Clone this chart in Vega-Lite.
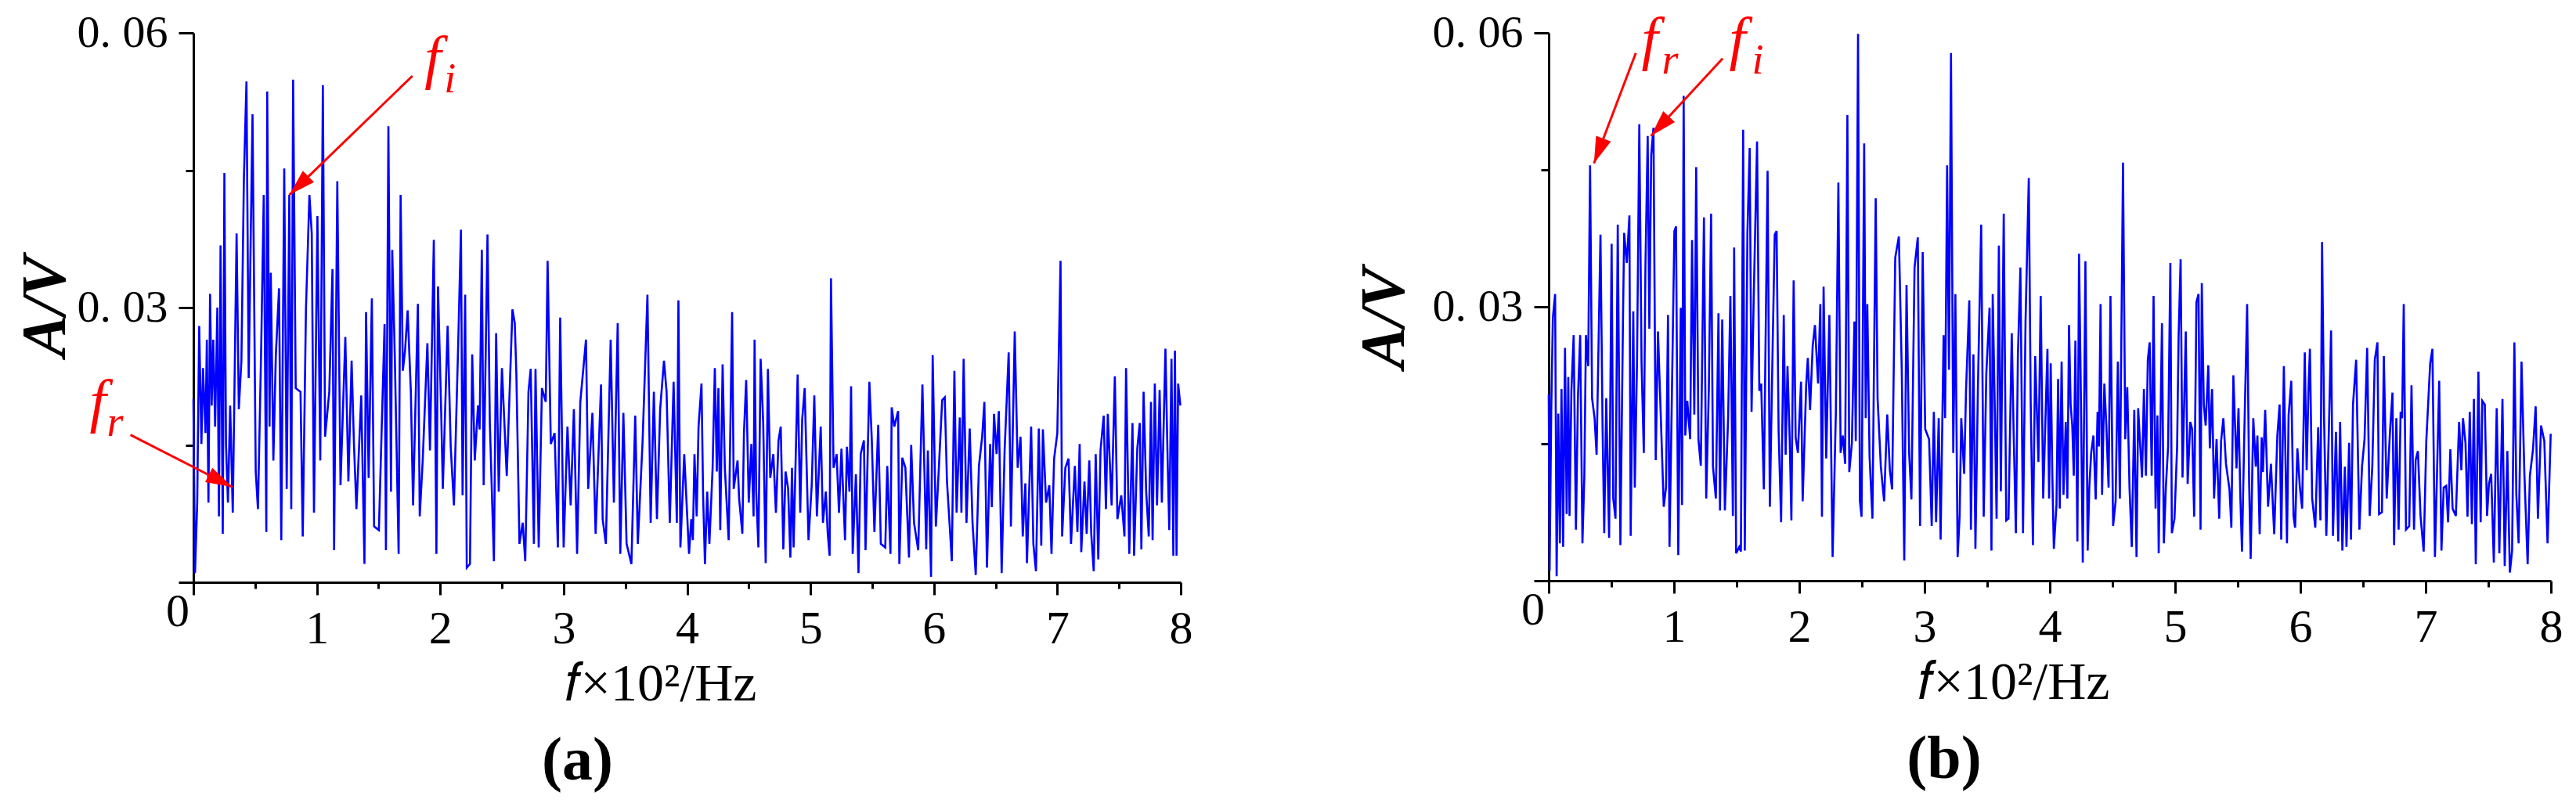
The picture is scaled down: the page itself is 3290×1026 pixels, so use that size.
{
  "$schema": "https://vega.github.io/schema/vega-lite/v6.json",
  "background": "white",
  "padding": {"left": 18, "top": 13, "right": 10, "bottom": 5},
  "spacing": 205,
  "datasets": {
    "spectrumA": [
      {"f":0.000,"A":0.0200},{"f":0.013,"A":0.0010},{"f":0.031,"A":0.0087},{"f":0.047,"A":0.0280},{"f":0.065,"A":0.0151},{"f":0.078,"A":0.0234},{"f":0.098,"A":0.0163},{"f":0.109,"A":0.0265},{"f":0.122,"A":0.0087},{"f":0.135,"A":0.0315},
      {"f":0.148,"A":0.0193},{"f":0.161,"A":0.0265},{"f":0.176,"A":0.0170},{"f":0.194,"A":0.0300},{"f":0.207,"A":0.0072},{"f":0.220,"A":0.0368},{"f":0.238,"A":0.0053},{"f":0.251,"A":0.0447},{"f":0.264,"A":0.0151},{"f":0.280,"A":0.0087},
      {"f":0.298,"A":0.0193},{"f":0.319,"A":0.0076},{"f":0.350,"A":0.0381},{"f":0.368,"A":0.0189},{"f":0.389,"A":0.0242},{"f":0.409,"A":0.0440},{"f":0.430,"A":0.0547},{"f":0.448,"A":0.0223},{"f":0.479,"A":0.0511},{"f":0.505,"A":0.0121},
      {"f":0.523,"A":0.0080},{"f":0.549,"A":0.0253},{"f":0.570,"A":0.0423},{"f":0.591,"A":0.0055},{"f":0.598,"A":0.0536},{"f":0.617,"A":0.0170},{"f":0.627,"A":0.0338},{"f":0.648,"A":0.0133},{"f":0.668,"A":0.0248},{"f":0.694,"A":0.0321},
      {"f":0.712,"A":0.0046},{"f":0.736,"A":0.0452},{"f":0.756,"A":0.0102},{"f":0.777,"A":0.0423},{"f":0.793,"A":0.0080},{"f":0.808,"A":0.0549},{"f":0.829,"A":0.0212},{"f":0.868,"A":0.0208},{"f":0.886,"A":0.0050},{"f":0.912,"A":0.0298},
      {"f":0.940,"A":0.0423},{"f":0.959,"A":0.0381},{"f":0.977,"A":0.0076},{"f":1.005,"A":0.0400},{"f":1.028,"A":0.0133},{"f":1.049,"A":0.0543},{"f":1.067,"A":0.0159},{"f":1.101,"A":0.0208},{"f":1.127,"A":0.0342},{"f":1.140,"A":0.0035},
      {"f":1.166,"A":0.0438},{"f":1.192,"A":0.0106},{"f":1.231,"A":0.0268},{"f":1.256,"A":0.0110},{"f":1.282,"A":0.0242},{"f":1.301,"A":0.0151},{"f":1.321,"A":0.0080},{"f":1.360,"A":0.0204},{"f":1.386,"A":0.0020},{"f":1.399,"A":0.0295},
      {"f":1.420,"A":0.0114},{"f":1.446,"A":0.0310},{"f":1.464,"A":0.0061},{"f":1.503,"A":0.0057},{"f":1.549,"A":0.0282},{"f":1.560,"A":0.0035},{"f":1.580,"A":0.0498},{"f":1.601,"A":0.0099},{"f":1.611,"A":0.0363},{"f":1.632,"A":0.0246},
      {"f":1.663,"A":0.0031},{"f":1.679,"A":0.0423},{"f":1.697,"A":0.0231},{"f":1.715,"A":0.0253},{"f":1.736,"A":0.0297},{"f":1.762,"A":0.0208},{"f":1.780,"A":0.0084},{"f":1.819,"A":0.0304},{"f":1.834,"A":0.0072},{"f":1.858,"A":0.0133},
      {"f":1.896,"A":0.0261},{"f":1.917,"A":0.0144},{"f":1.948,"A":0.0374},{"f":1.969,"A":0.0031},{"f":1.982,"A":0.0323},{"f":2.008,"A":0.0185},{"f":2.021,"A":0.0102},{"f":2.060,"A":0.0280},{"f":2.085,"A":0.0148},{"f":2.111,"A":0.0084},
      {"f":2.145,"A":0.0257},{"f":2.168,"A":0.0385},{"f":2.181,"A":0.0095},{"f":2.202,"A":0.0314},{"f":2.215,"A":0.0016},{"f":2.241,"A":0.0020},{"f":2.259,"A":0.0249},{"f":2.280,"A":0.0133},{"f":2.306,"A":0.0193},{"f":2.319,"A":0.0167},
      {"f":2.337,"A":0.0363},{"f":2.352,"A":0.0106},{"f":2.383,"A":0.0380},{"f":2.402,"A":0.0174},{"f":2.435,"A":0.0023},{"f":2.453,"A":0.0272},{"f":2.474,"A":0.0099},{"f":2.500,"A":0.0234},{"f":2.539,"A":0.0116},{"f":2.585,"A":0.0298},
      {"f":2.604,"A":0.0283},{"f":2.617,"A":0.0227},{"f":2.642,"A":0.0042},{"f":2.668,"A":0.0065},{"f":2.689,"A":0.0023},{"f":2.715,"A":0.0208},{"f":2.733,"A":0.0233},{"f":2.759,"A":0.0042},{"f":2.772,"A":0.0233},{"f":2.798,"A":0.0038},
      {"f":2.824,"A":0.0212},{"f":2.855,"A":0.0197},{"f":2.870,"A":0.0351},{"f":2.896,"A":0.0151},{"f":2.927,"A":0.0163},{"f":2.953,"A":0.0038},{"f":2.972,"A":0.0289},{"f":3.000,"A":0.0038},{"f":3.031,"A":0.0170},{"f":3.057,"A":0.0084},
      {"f":3.083,"A":0.0189},{"f":3.109,"A":0.0031},{"f":3.135,"A":0.0197},{"f":3.181,"A":0.0265},{"f":3.199,"A":0.0102},{"f":3.233,"A":0.0185},{"f":3.259,"A":0.0053},{"f":3.303,"A":0.0216},{"f":3.316,"A":0.0069},{"f":3.342,"A":0.0042},
      {"f":3.381,"A":0.0265},{"f":3.407,"A":0.0087},{"f":3.438,"A":0.0283},{"f":3.459,"A":0.0031},{"f":3.484,"A":0.0185},{"f":3.510,"A":0.0042},{"f":3.549,"A":0.0020},{"f":3.580,"A":0.0182},{"f":3.601,"A":0.0042},{"f":3.640,"A":0.0155},
      {"f":3.679,"A":0.0314},{"f":3.705,"A":0.0065},{"f":3.731,"A":0.0208},{"f":3.756,"A":0.0069},{"f":3.782,"A":0.0189},{"f":3.813,"A":0.0242},{"f":3.834,"A":0.0208},{"f":3.860,"A":0.0065},{"f":3.891,"A":0.0219},{"f":3.917,"A":0.0065},
      {"f":3.930,"A":0.0308},{"f":3.946,"A":0.0038},{"f":3.977,"A":0.0140},
      {"f":4.016,"A":0.0031},{"f":4.034,"A":0.0069},{"f":4.047,"A":0.0046},{"f":4.060,"A":0.0140},{"f":4.078,"A":0.0072},{"f":4.093,"A":0.0170},{"f":4.117,"A":0.0217},{"f":4.130,"A":0.0095},{"f":4.145,"A":0.0020},{"f":4.163,"A":0.0099},
      {"f":4.181,"A":0.0042},{"f":4.207,"A":0.0125},{"f":4.225,"A":0.0234},{"f":4.241,"A":0.0121},{"f":4.254,"A":0.0212},{"f":4.269,"A":0.0057},{"f":4.288,"A":0.0238},{"f":4.306,"A":0.0125},{"f":4.337,"A":0.0046},{"f":4.365,"A":0.0295},
      {"f":4.378,"A":0.0102},{"f":4.409,"A":0.0133},{"f":4.422,"A":0.0091},{"f":4.448,"A":0.0053},{"f":4.461,"A":0.0163},{"f":4.479,"A":0.0221},{"f":4.500,"A":0.0087},{"f":4.521,"A":0.0151},{"f":4.539,"A":0.0072},{"f":4.547,"A":0.0265},
      {"f":4.560,"A":0.0099},{"f":4.578,"A":0.0038},{"f":4.596,"A":0.0244},{"f":4.617,"A":0.0174},{"f":4.637,"A":0.0021},{"f":4.655,"A":0.0233},{"f":4.674,"A":0.0114},{"f":4.699,"A":0.0140},{"f":4.720,"A":0.0076},{"f":4.741,"A":0.0155},
      {"f":4.759,"A":0.0170},{"f":4.780,"A":0.0036},{"f":4.798,"A":0.0121},{"f":4.819,"A":0.0102},{"f":4.837,"A":0.0027},{"f":4.850,"A":0.0125},{"f":4.863,"A":0.0038},{"f":4.896,"A":0.0227},{"f":4.917,"A":0.0076},{"f":4.933,"A":0.0178},
      {"f":4.953,"A":0.0212},{"f":4.984,"A":0.0046},{"f":5.010,"A":0.0106},{"f":5.031,"A":0.0204},{"f":5.052,"A":0.0072},{"f":5.083,"A":0.0170},{"f":5.101,"A":0.0065},{"f":5.124,"A":0.0099},{"f":5.140,"A":0.0053},{"f":5.155,"A":0.0029},
      {"f":5.166,"A":0.0332},{"f":5.187,"A":0.0125},{"f":5.212,"A":0.0140},{"f":5.231,"A":0.0076},{"f":5.251,"A":0.0146},{"f":5.280,"A":0.0046},{"f":5.295,"A":0.0148},{"f":5.316,"A":0.0099},{"f":5.329,"A":0.0214},{"f":5.342,"A":0.0031},
      {"f":5.368,"A":0.0118},{"f":5.389,"A":0.0010},{"f":5.407,"A":0.0140},{"f":5.433,"A":0.0155},{"f":5.446,"A":0.0035},{"f":5.477,"A":0.0219},{"f":5.497,"A":0.0155},{"f":5.518,"A":0.0055},{"f":5.549,"A":0.0172},{"f":5.570,"A":0.0042},
      {"f":5.606,"A":0.0038},{"f":5.622,"A":0.0127},{"f":5.648,"A":0.0031},{"f":5.658,"A":0.0191},{"f":5.679,"A":0.0170},{"f":5.710,"A":0.0187},{"f":5.720,"A":0.0020},{"f":5.744,"A":0.0136},{"f":5.769,"A":0.0125},{"f":5.798,"A":0.0027},
      {"f":5.816,"A":0.0150},{"f":5.839,"A":0.0065},{"f":5.873,"A":0.0035},{"f":5.907,"A":0.0216},{"f":5.938,"A":0.0036},{"f":5.951,"A":0.0144},{"f":5.977,"A":0.0006},{"f":5.990,"A":0.0248},{"f":6.016,"A":0.0061},{"f":6.041,"A":0.0127},
      {"f":6.067,"A":0.0199},{"f":6.088,"A":0.0202},{"f":6.106,"A":0.0110},{"f":6.132,"A":0.0053},{"f":6.145,"A":0.0023},{"f":6.166,"A":0.0231},{"f":6.184,"A":0.0076},{"f":6.210,"A":0.0180},{"f":6.223,"A":0.0076},{"f":6.241,"A":0.0244},
      {"f":6.264,"A":0.0065},{"f":6.290,"A":0.0168},{"f":6.313,"A":0.0065},{"f":6.339,"A":0.0008},{"f":6.365,"A":0.0127},{"f":6.391,"A":0.0159},{"f":6.409,"A":0.0197},{"f":6.430,"A":0.0016},{"f":6.456,"A":0.0151},{"f":6.469,"A":0.0082},
      {"f":6.487,"A":0.0184},{"f":6.508,"A":0.0140},{"f":6.526,"A":0.0187},{"f":6.549,"A":0.0010},{"f":6.573,"A":0.0144},{"f":6.606,"A":0.0251},{"f":6.624,"A":0.0061},{"f":6.655,"A":0.0274},{"f":6.679,"A":0.0125},{"f":6.702,"A":0.0159},
      {"f":6.720,"A":0.0050},{"f":6.741,"A":0.0108},{"f":6.754,"A":0.0021},{"f":6.788,"A":0.0170},{"f":6.806,"A":0.0042},{"f":6.827,"A":0.0012},{"f":6.850,"A":0.0168},{"f":6.870,"A":0.0040},{"f":6.883,"A":0.0167},{"f":6.909,"A":0.0087},
      {"f":6.935,"A":0.0106},{"f":6.953,"A":0.0031},{"f":6.974,"A":0.0135},{"f":7.000,"A":0.0163},{"f":7.026,"A":0.0351},{"f":7.039,"A":0.0050},{"f":7.065,"A":0.0125},{"f":7.091,"A":0.0135},{"f":7.111,"A":0.0042},{"f":7.142,"A":0.0127},
      {"f":7.163,"A":0.0055},{"f":7.181,"A":0.0151},{"f":7.194,"A":0.0033},{"f":7.220,"A":0.0110},{"f":7.238,"A":0.0053},{"f":7.259,"A":0.0133},{"f":7.275,"A":0.0053},{"f":7.295,"A":0.0012},{"f":7.311,"A":0.0140},{"f":7.332,"A":0.0025},
      {"f":7.350,"A":0.0144},{"f":7.376,"A":0.0182},{"f":7.394,"A":0.0080},{"f":7.409,"A":0.0184},{"f":7.440,"A":0.0084},{"f":7.466,"A":0.0225},{"f":7.487,"A":0.0069},{"f":7.518,"A":0.0095},{"f":7.544,"A":0.0050},{"f":7.557,"A":0.0234},
      {"f":7.583,"A":0.0031},{"f":7.609,"A":0.0174},{"f":7.622,"A":0.0029},{"f":7.648,"A":0.0146},{"f":7.668,"A":0.0174},{"f":7.681,"A":0.0036},{"f":7.699,"A":0.0208},{"f":7.720,"A":0.0099},{"f":7.741,"A":0.0050},{"f":7.759,"A":0.0197},
      {"f":7.772,"A":0.0046},{"f":7.790,"A":0.0217},{"f":7.808,"A":0.0084},{"f":7.829,"A":0.0210},{"f":7.847,"A":0.0087},{"f":7.876,"A":0.0255},{"f":7.894,"A":0.0133},{"f":7.907,"A":0.0057},{"f":7.925,"A":0.0244},{"f":7.940,"A":0.0029},
      {"f":7.953,"A":0.0253},{"f":7.966,"A":0.0029},{"f":7.979,"A":0.0217},{"f":7.997,"A":0.0193}
    ],
    "spectrumB": [
      {"f":0.000,"A":0.0204},{"f":0.007,"A":0.0011},{"f":0.020,"A":0.0185},{"f":0.033,"A":0.0288},{"f":0.051,"A":0.0314},{"f":0.063,"A":0.0005},{"f":0.076,"A":0.0183},{"f":0.089,"A":0.0041},{"f":0.102,"A":0.0210},{"f":0.115,"A":0.0037},
      {"f":0.130,"A":0.0255},{"f":0.143,"A":0.0073},{"f":0.156,"A":0.0223},{"f":0.166,"A":0.0071},{"f":0.181,"A":0.0208},{"f":0.199,"A":0.0269},{"f":0.217,"A":0.0056},{"f":0.233,"A":0.0200},{"f":0.251,"A":0.0269},{"f":0.269,"A":0.0041},
      {"f":0.284,"A":0.0113},{"f":0.297,"A":0.0269},{"f":0.315,"A":0.0235},{"f":0.330,"A":0.0455},{"f":0.346,"A":0.0200},{"f":0.366,"A":0.0178},{"f":0.382,"A":0.0138},{"f":0.397,"A":0.0254},{"f":0.413,"A":0.0379},{"f":0.430,"A":0.0166},
      {"f":0.443,"A":0.0052},{"f":0.459,"A":0.0200},{"f":0.482,"A":0.0047},{"f":0.502,"A":0.0369},{"f":0.515,"A":0.0090},{"f":0.533,"A":0.0068},{"f":0.551,"A":0.0390},{"f":0.572,"A":0.0039},{"f":0.592,"A":0.0278},{"f":0.602,"A":0.0381},
      {"f":0.623,"A":0.0348},{"f":0.644,"A":0.0400},{"f":0.654,"A":0.0049},{"f":0.675,"A":0.0295},{"f":0.687,"A":0.0102},{"f":0.705,"A":0.0242},{"f":0.723,"A":0.0500},{"f":0.741,"A":0.0238},{"f":0.759,"A":0.0140},{"f":0.772,"A":0.0345},
      {"f":0.790,"A":0.0487},{"f":0.803,"A":0.0276},{"f":0.818,"A":0.0466},{"f":0.836,"A":0.0496},{"f":0.854,"A":0.0132},{"f":0.872,"A":0.0273},{"f":0.895,"A":0.0178},{"f":0.918,"A":0.0081},{"f":0.936,"A":0.0102},{"f":0.952,"A":0.0291},
      {"f":0.964,"A":0.0037},{"f":0.982,"A":0.0193},{"f":1.003,"A":0.0383},{"f":1.016,"A":0.0388},{"f":1.034,"A":0.0028},{"f":1.054,"A":0.0299},{"f":1.064,"A":0.0083},{"f":1.077,"A":0.0531},{"f":1.090,"A":0.0159},{"f":1.106,"A":0.0197},
      {"f":1.129,"A":0.0155},{"f":1.144,"A":0.0373},{"f":1.162,"A":0.0182},{"f":1.177,"A":0.0453},{"f":1.195,"A":0.0155},{"f":1.214,"A":0.0126},{"f":1.239,"A":0.0398},{"f":1.257,"A":0.0090},{"f":1.278,"A":0.0210},{"f":1.296,"A":0.0402},
      {"f":1.311,"A":0.0125},{"f":1.334,"A":0.0090},{"f":1.355,"A":0.0293},{"f":1.367,"A":0.0077},{"f":1.385,"A":0.0286},{"f":1.406,"A":0.0077},{"f":1.432,"A":0.0178},{"f":1.450,"A":0.0312},{"f":1.470,"A":0.0071},{"f":1.480,"A":0.0365},
      {"f":1.496,"A":0.0030},{"f":1.521,"A":0.0037},{"f":1.534,"A":0.0032},{"f":1.552,"A":0.0494},{"f":1.565,"A":0.0033},{"f":1.586,"A":0.0381},{"f":1.604,"A":0.0474},{"f":1.619,"A":0.0185},{"f":1.637,"A":0.0314},{"f":1.663,"A":0.0481},
      {"f":1.681,"A":0.0208},{"f":1.696,"A":0.0216},{"f":1.717,"A":0.0100},{"f":1.747,"A":0.0449},{"f":1.765,"A":0.0081},{"f":1.788,"A":0.0261},{"f":1.804,"A":0.0379},{"f":1.819,"A":0.0383},{"f":1.835,"A":0.0164},{"f":1.855,"A":0.0064},
      {"f":1.876,"A":0.0291},{"f":1.891,"A":0.0138},{"f":1.906,"A":0.0235},{"f":1.924,"A":0.0153},{"f":1.937,"A":0.0066},{"f":1.955,"A":0.0329},{"f":1.971,"A":0.0157},{"f":1.989,"A":0.0140},{"f":2.014,"A":0.0218},{"f":2.027,"A":0.0087},
      {"f":2.055,"A":0.0214},{"f":2.068,"A":0.0244},{"f":2.086,"A":0.0187},{"f":2.107,"A":0.0257},{"f":2.125,"A":0.0280},{"f":2.150,"A":0.0216},{"f":2.168,"A":0.0303},{"f":2.181,"A":0.0070},{"f":2.194,"A":0.0322},{"f":2.215,"A":0.0134},
      {"f":2.240,"A":0.0291},{"f":2.266,"A":0.0026},{"f":2.292,"A":0.0185},{"f":2.312,"A":0.0436},{"f":2.330,"A":0.0140},{"f":2.348,"A":0.0159},{"f":2.366,"A":0.0128},{"f":2.384,"A":0.0510},{"f":2.399,"A":0.0119},{"f":2.420,"A":0.0151},
      {"f":2.440,"A":0.0284},{"f":2.451,"A":0.0153},{"f":2.469,"A":0.0599},{"f":2.484,"A":0.0087},{"f":2.497,"A":0.0070},{"f":2.518,"A":0.0479},{"f":2.530,"A":0.0178},{"f":2.543,"A":0.0303},{"f":2.561,"A":0.0136},{"f":2.584,"A":0.0068},
      {"f":2.610,"A":0.0419},{"f":2.625,"A":0.0200},{"f":2.651,"A":0.0125},{"f":2.677,"A":0.0087},{"f":2.702,"A":0.0182},{"f":2.723,"A":0.0121},{"f":2.741,"A":0.0100},{"f":2.766,"A":0.0354},{"f":2.795,"A":0.0377},{"f":2.818,"A":0.0231},
      {"f":2.838,"A":0.0022},{"f":2.856,"A":0.0324},{"f":2.877,"A":0.0140},{"f":2.895,"A":0.0089},{"f":2.920,"A":0.0343},{"f":2.946,"A":0.0376},{"f":2.964,"A":0.0060},{"f":2.985,"A":0.0360},{"f":3.005,"A":0.0166},{"f":3.036,"A":0.0155},
      {"f":3.057,"A":0.0060},{"f":3.074,"A":0.0185},{"f":3.092,"A":0.0064},{"f":3.113,"A":0.0178},{"f":3.128,"A":0.0045},{"f":3.152,"A":0.0269},{"f":3.164,"A":0.0178},{"f":3.180,"A":0.0455},{"f":3.195,"A":0.0231},{"f":3.211,"A":0.0578},
      {"f":3.229,"A":0.0140},{"f":3.246,"A":0.0314},{"f":3.264,"A":0.0026},{"f":3.280,"A":0.0071},{"f":3.293,"A":0.0178},{"f":3.316,"A":0.0117},{"f":3.331,"A":0.0208},{"f":3.357,"A":0.0307},{"f":3.370,"A":0.0056},{"f":3.390,"A":0.0248},
      {"f":3.406,"A":0.0035},{"f":3.426,"A":0.0212},{"f":3.452,"A":0.0390},{"f":3.472,"A":0.0070},{"f":3.493,"A":0.0227},{"f":3.519,"A":0.0299},{"f":3.534,"A":0.0033},{"f":3.544,"A":0.0314},{"f":3.562,"A":0.0178},{"f":3.575,"A":0.0068},
      {"f":3.593,"A":0.0367},{"f":3.609,"A":0.0098},{"f":3.632,"A":0.0402},{"f":3.652,"A":0.0066},{"f":3.670,"A":0.0068},{"f":3.696,"A":0.0271},{"f":3.711,"A":0.0163},{"f":3.729,"A":0.0052},{"f":3.745,"A":0.0246},{"f":3.765,"A":0.0343},
      {"f":3.786,"A":0.0052},{"f":3.806,"A":0.0284},{"f":3.832,"A":0.0441},{"f":3.847,"A":0.0197},{"f":3.865,"A":0.0039},{"f":3.883,"A":0.0246},{"f":3.909,"A":0.0130},{"f":3.927,"A":0.0312},{"f":3.947,"A":0.0090},{"f":3.973,"A":0.0216},
      {"f":3.981,"A":0.0254},{"f":3.994,"A":0.0090},{"f":4.007,"A":0.0238},{"f":4.020,"A":0.0115},{"f":4.032,"A":0.0035},{"f":4.053,"A":0.0083},{"f":4.066,"A":0.0221},{"f":4.079,"A":0.0079},{"f":4.094,"A":0.0240},{"f":4.109,"A":0.0094},
      {"f":4.127,"A":0.0174},{"f":4.140,"A":0.0090},{"f":4.153,"A":0.0280},{"f":4.166,"A":0.0193},{"f":4.179,"A":0.0170},{"f":4.191,"A":0.0115},{"f":4.204,"A":0.0263},{"f":4.220,"A":0.0043},{"f":4.233,"A":0.0358},{"f":4.248,"A":0.0200},
      {"f":4.263,"A":0.0020},{"f":4.284,"A":0.0350},{"f":4.302,"A":0.0033},{"f":4.315,"A":0.0102},{"f":4.330,"A":0.0140},{"f":4.348,"A":0.0159},{"f":4.366,"A":0.0089},{"f":4.381,"A":0.0185},{"f":4.392,"A":0.0147},{"f":4.405,"A":0.0303},
      {"f":4.417,"A":0.0094},{"f":4.435,"A":0.0216},{"f":4.451,"A":0.0170},{"f":4.469,"A":0.0102},{"f":4.484,"A":0.0312},{"f":4.505,"A":0.0060},{"f":4.525,"A":0.0087},{"f":4.543,"A":0.0240},{"f":4.559,"A":0.0090},{"f":4.584,"A":0.0458},
      {"f":4.602,"A":0.0155},{"f":4.618,"A":0.0212},{"f":4.636,"A":0.0102},{"f":4.654,"A":0.0037},{"f":4.674,"A":0.0187},{"f":4.692,"A":0.0026},{"f":4.705,"A":0.0189},{"f":4.720,"A":0.0151},{"f":4.736,"A":0.0113},{"f":4.751,"A":0.0210},
      {"f":4.767,"A":0.0115},{"f":4.782,"A":0.0242},{"f":4.797,"A":0.0261},{"f":4.813,"A":0.0115},{"f":4.828,"A":0.0312},{"f":4.844,"A":0.0079},{"f":4.859,"A":0.0181},{"f":4.869,"A":0.0030},{"f":4.879,"A":0.0136},{"f":4.895,"A":0.0282},
      {"f":4.910,"A":0.0041},{"f":4.926,"A":0.0102},{"f":4.944,"A":0.0147},{"f":4.962,"A":0.0348},{"f":4.974,"A":0.0052},{"f":4.995,"A":0.0068},{"f":5.016,"A":0.0147},{"f":5.028,"A":0.0269},{"f":5.044,"A":0.0352},{"f":5.059,"A":0.0113},
      {"f":5.085,"A":0.0273},{"f":5.100,"A":0.0106},{"f":5.121,"A":0.0174},{"f":5.136,"A":0.0166},{"f":5.152,"A":0.0070},{"f":5.170,"A":0.0305},{"f":5.187,"A":0.0314},{"f":5.203,"A":0.0056},{"f":5.213,"A":0.0326},{"f":5.229,"A":0.0193},
      {"f":5.244,"A":0.0170},{"f":5.265,"A":0.0236},{"f":5.277,"A":0.0145},{"f":5.295,"A":0.0210},{"f":5.311,"A":0.0090},{"f":5.331,"A":0.0155},{"f":5.352,"A":0.0068},{"f":5.367,"A":0.0153},{"f":5.385,"A":0.0178},{"f":5.406,"A":0.0128},
      {"f":5.434,"A":0.0100},{"f":5.449,"A":0.0058},{"f":5.465,"A":0.0225},{"f":5.490,"A":0.0123},{"f":5.506,"A":0.0189},{"f":5.521,"A":0.0090},{"f":5.534,"A":0.0032},{"f":5.552,"A":0.0159},{"f":5.575,"A":0.0303},{"f":5.591,"A":0.0106},
      {"f":5.603,"A":0.0024},{"f":5.624,"A":0.0178},{"f":5.644,"A":0.0125},{"f":5.657,"A":0.0159},{"f":5.675,"A":0.0051},{"f":5.691,"A":0.0157},{"f":5.701,"A":0.0119},{"f":5.719,"A":0.0187},{"f":5.742,"A":0.0081},{"f":5.765,"A":0.0128},
      {"f":5.791,"A":0.0051},{"f":5.816,"A":0.0159},{"f":5.834,"A":0.0193},{"f":5.847,"A":0.0045},{"f":5.868,"A":0.0235},{"f":5.893,"A":0.0041},{"f":5.906,"A":0.0181},{"f":5.927,"A":0.0219},{"f":5.945,"A":0.0071},{"f":5.958,"A":0.0058},
      {"f":5.976,"A":0.0145},{"f":5.996,"A":0.0102},{"f":6.014,"A":0.0079},{"f":6.035,"A":0.0250},{"f":6.050,"A":0.0121},{"f":6.065,"A":0.0212},{"f":6.076,"A":0.0254},{"f":6.094,"A":0.0090},{"f":6.119,"A":0.0058},{"f":6.142,"A":0.0168},
      {"f":6.160,"A":0.0066},{"f":6.173,"A":0.0371},{"f":6.189,"A":0.0178},{"f":6.207,"A":0.0049},{"f":6.227,"A":0.0163},{"f":6.245,"A":0.0274},{"f":6.260,"A":0.0049},{"f":6.284,"A":0.0163},{"f":6.302,"A":0.0043},{"f":6.317,"A":0.0174},
      {"f":6.335,"A":0.0033},{"f":6.355,"A":0.0125},{"f":6.368,"A":0.0037},{"f":6.389,"A":0.0151},{"f":6.404,"A":0.0045},{"f":6.420,"A":0.0193},{"f":6.445,"A":0.0242},{"f":6.471,"A":0.0056},{"f":6.492,"A":0.0125},{"f":6.512,"A":0.0155},
      {"f":6.533,"A":0.0255},{"f":6.553,"A":0.0071},{"f":6.574,"A":0.0125},{"f":6.594,"A":0.0242},{"f":6.615,"A":0.0261},{"f":6.628,"A":0.0073},{"f":6.651,"A":0.0075},{"f":6.666,"A":0.0246},{"f":6.689,"A":0.0090},{"f":6.715,"A":0.0163},
      {"f":6.735,"A":0.0206},{"f":6.748,"A":0.0039},{"f":6.766,"A":0.0178},{"f":6.784,"A":0.0056},{"f":6.800,"A":0.0185},{"f":6.812,"A":0.0178},{"f":6.825,"A":0.0303},{"f":6.843,"A":0.0056},{"f":6.869,"A":0.0060},{"f":6.887,"A":0.0214},
      {"f":6.907,"A":0.0056},{"f":6.920,"A":0.0132},{"f":6.938,"A":0.0142},{"f":6.959,"A":0.0071},{"f":6.984,"A":0.0032},{"f":7.005,"A":0.0153},{"f":7.036,"A":0.0238},{"f":7.054,"A":0.0254},{"f":7.074,"A":0.0026},{"f":7.092,"A":0.0125},
      {"f":7.108,"A":0.0219},{"f":7.126,"A":0.0033},{"f":7.144,"A":0.0102},{"f":7.164,"A":0.0104},{"f":7.179,"A":0.0064},{"f":7.197,"A":0.0144},{"f":7.215,"A":0.0079},{"f":7.241,"A":0.0071},{"f":7.267,"A":0.0174},{"f":7.285,"A":0.0121},
      {"f":7.298,"A":0.0178},{"f":7.318,"A":0.0151},{"f":7.334,"A":0.0070},{"f":7.352,"A":0.0185},{"f":7.369,"A":0.0062},{"f":7.385,"A":0.0199},{"f":7.400,"A":0.0018},{"f":7.421,"A":0.0229},{"f":7.439,"A":0.0064},{"f":7.452,"A":0.0197},
      {"f":7.472,"A":0.0193},{"f":7.490,"A":0.0071},{"f":7.505,"A":0.0106},{"f":7.523,"A":0.0117},{"f":7.544,"A":0.0020},{"f":7.567,"A":0.0189},{"f":7.588,"A":0.0030},{"f":7.613,"A":0.0199},{"f":7.631,"A":0.0016},{"f":7.652,"A":0.0142},
      {"f":7.672,"A":0.0009},{"f":7.690,"A":0.0033},{"f":7.708,"A":0.0261},{"f":7.724,"A":0.0094},{"f":7.742,"A":0.0041},{"f":7.765,"A":0.0240},{"f":7.788,"A":0.0117},{"f":7.814,"A":0.0018},{"f":7.832,"A":0.0115},{"f":7.857,"A":0.0144},
      {"f":7.878,"A":0.0191},{"f":7.896,"A":0.0068},{"f":7.921,"A":0.0170},{"f":7.947,"A":0.0153},{"f":7.973,"A":0.0041},{"f":7.998,"A":0.0161}
    ],
    "arrows": [
      {"panel":"a","id":"a_i","f":0.777,"A":0.0423,"f2":1.775,"A2":0.0553},
      {"panel":"a","id":"a_r","f":0.316,"A":0.0104,"f2":-0.51,"A2":0.0161},
      {"panel":"b","id":"b_r","f":0.361,"A":0.0457,"f2":0.695,"A2":0.0578},
      {"panel":"b","id":"b_i","f":0.816,"A":0.0487,"f2":1.388,"A2":0.0572}
    ],
    "notes": [
      {"panel":"a","f":1.94,"A":0.0551,"main":"f","sub":"i"},
      {"panel":"a","f":-0.774,"A":0.0176,"main":"f","sub":"r"},
      {"panel":"b","f":0.806,"A":0.0572,"main":"f","sub":"r"},
      {"panel":"b","f":1.506,"A":0.0572,"main":"f","sub":"i"}
    ],
    "origin": [
      {"f":0,"A":0,"label":"0"}
    ]
  },
  "hconcat": [
    {
      "width": 1261,
      "height": 702,
      "title": {"text": "(a)", "orient": "bottom", "anchor": "middle", "frame": "group", "dx": -140, "offset": 88, "baseline": "alphabetic", "fontSize": 78, "fontWeight": "bold", "font": "Liberation Serif", "color": "black"},
      "encoding": {
        "x": {
          "field": "f", "type": "quantitative",
          "scale": {"domain": [0, 8], "nice": false, "zero": false},
          "axis": {
            "title": "𝑓×10²/Hz",
            "values": [0, 0.5, 1, 1.5, 2, 2.5, 3, 3.5, 4, 4.5, 5, 5.5, 6, 6.5, 7, 7.5, 8],
            "labelExpr": "datum.value % 1 == 0 && datum.value > 0 ? format(datum.value, 'd') : ''",
            "tickSize": {"condition": {"test": "datum.value % 1 != 0", "value": 8}, "value": 16},
            "labelPadding": 14,
            "labelFontSize": 60,
            "titleFontSize": 68,
            "titleX": 596,
            "titleY": 150,
            "titleAlign": "center",
            "titleBaseline": "alphabetic"
          }
        },
        "y": {
          "field": "A", "type": "quantitative",
          "scale": {"domain": [0, 0.06], "nice": false, "zero": false},
          "axis": {
            "title": "A/V",
            "values": [0, 0.015, 0.03, 0.045, 0.06],
            "labelExpr": "datum.value == 0.03 ? '0. 03' : datum.value == 0.06 ? '0. 06' : ''",
            "tickSize": {"condition": {"test": "datum.value == 0.015 || datum.value == 0.045", "value": 10}, "value": 19},
            "labelPadding": 14,
            "labelFontSize": 58,
            "titleFontSize": 80,
            "titleFontStyle": "italic",
            "titleFontWeight": "bold",
            "titleAngle": 270,
            "titleX": -165,
            "titleY": 349,
            "titleAlign": "center",
            "titleBaseline": "alphabetic"
          }
        }
      },
      "layer": [
        {
          "data": {"name": "spectrumA"},
          "mark": {"type": "line", "color": "#0000ff", "strokeWidth": 2.6}
        },
        {
          "data": {"name": "origin"},
          "mark": {"type": "text", "color": "black", "font": "Liberation Serif", "fontSize": 60, "align": "right", "baseline": "alphabetic", "dx": -5, "dy": 56},
          "encoding": {"text": {"field": "label"}}
        },
        {
          "data": {"name": "arrows"},
          "transform": [{"filter": "datum.panel == 'a'"}],
          "mark": {"type": "rule", "color": "#ff0000", "strokeWidth": 3},
          "encoding": {"x2": {"field": "f2"}, "y2": {"field": "A2"}}
        },
        {
          "data": {"name": "arrows"},
          "transform": [{"filter": "datum.id == 'a_i'"}],
          "mark": {"type": "point", "shape": "M0,0L0.6,2L-0.6,2Z", "filled": true, "color": "#ff0000", "opacity": 1, "size": 1150, "angle": 226}
        },
        {
          "data": {"name": "arrows"},
          "transform": [{"filter": "datum.id == 'a_r'"}],
          "mark": {"type": "point", "shape": "M0,0L0.6,2L-0.6,2Z", "filled": true, "color": "#ff0000", "opacity": 1, "size": 1150, "angle": 117}
        },
        {
          "data": {"name": "notes"},
          "transform": [{"filter": "datum.panel == 'a'"}],
          "mark": {"type": "text", "color": "#ff0000", "font": "Liberation Serif", "fontStyle": "italic", "fontSize": 76, "align": "center", "baseline": "alphabetic"},
          "encoding": {"text": {"field": "main"}}
        },
        {
          "data": {"name": "notes"},
          "transform": [{"filter": "datum.panel == 'a'"}],
          "mark": {"type": "text", "color": "#ff0000", "font": "Liberation Serif", "fontStyle": "italic", "fontSize": 54, "align": "center", "baseline": "alphabetic", "dx": 22, "dy": 19},
          "encoding": {"text": {"field": "sub"}}
        }
      ]
    },
    {
      "width": 1280,
      "height": 700,
      "title": {"text": "(b)", "orient": "bottom", "anchor": "middle", "frame": "group", "dx": -135, "offset": 88, "baseline": "alphabetic", "fontSize": 78, "fontWeight": "bold", "font": "Liberation Serif", "color": "black"},
      "encoding": {
        "x": {
          "field": "f", "type": "quantitative",
          "scale": {"domain": [0, 8], "nice": false, "zero": false},
          "axis": {
            "title": "𝑓×10²/Hz",
            "values": [0, 0.5, 1, 1.5, 2, 2.5, 3, 3.5, 4, 4.5, 5, 5.5, 6, 6.5, 7, 7.5, 8],
            "labelExpr": "datum.value % 1 == 0 && datum.value > 0 ? format(datum.value, 'd') : ''",
            "tickSize": {"condition": {"test": "datum.value % 1 != 0", "value": 8}, "value": 16},
            "labelPadding": 14,
            "labelFontSize": 60,
            "titleFontSize": 68,
            "titleX": 593,
            "titleY": 150,
            "titleAlign": "center",
            "titleBaseline": "alphabetic"
          }
        },
        "y": {
          "field": "A", "type": "quantitative",
          "scale": {"domain": [0, 0.06], "nice": false, "zero": false},
          "axis": {
            "title": "A/V",
            "values": [0, 0.015, 0.03, 0.045, 0.06],
            "labelExpr": "datum.value == 0.03 ? '0. 03' : datum.value == 0.06 ? '0. 06' : ''",
            "tickSize": {"condition": {"test": "datum.value == 0.015 || datum.value == 0.045", "value": 10}, "value": 19},
            "labelPadding": 14,
            "labelFontSize": 58,
            "titleFontSize": 80,
            "titleFontStyle": "italic",
            "titleFontWeight": "bold",
            "titleAngle": 270,
            "titleX": -186,
            "titleY": 364,
            "titleAlign": "center",
            "titleBaseline": "alphabetic"
          }
        }
      },
      "layer": [
        {
          "data": {"name": "spectrumB"},
          "mark": {"type": "line", "color": "#0000ff", "strokeWidth": 2.6}
        },
        {
          "data": {"name": "origin"},
          "mark": {"type": "text", "color": "black", "font": "Liberation Serif", "fontSize": 60, "align": "right", "baseline": "alphabetic", "dx": -5, "dy": 56},
          "encoding": {"text": {"field": "label"}}
        },
        {
          "data": {"name": "arrows"},
          "transform": [{"filter": "datum.panel == 'b'"}],
          "mark": {"type": "rule", "color": "#ff0000", "strokeWidth": 3},
          "encoding": {"x2": {"field": "f2"}, "y2": {"field": "A2"}}
        },
        {
          "data": {"name": "arrows"},
          "transform": [{"filter": "datum.id == 'b_r'"}],
          "mark": {"type": "point", "shape": "M0,0L0.6,2L-0.6,2Z", "filled": true, "color": "#ff0000", "opacity": 1, "size": 1150, "angle": 201}
        },
        {
          "data": {"name": "arrows"},
          "transform": [{"filter": "datum.id == 'b_i'"}],
          "mark": {"type": "point", "shape": "M0,0L0.6,2L-0.6,2Z", "filled": true, "color": "#ff0000", "opacity": 1, "size": 1150, "angle": 223}
        },
        {
          "data": {"name": "notes"},
          "transform": [{"filter": "datum.panel == 'b'"}],
          "mark": {"type": "text", "color": "#ff0000", "font": "Liberation Serif", "fontStyle": "italic", "fontSize": 76, "align": "center", "baseline": "alphabetic"},
          "encoding": {"text": {"field": "main"}}
        },
        {
          "data": {"name": "notes"},
          "transform": [{"filter": "datum.panel == 'b'"}],
          "mark": {"type": "text", "color": "#ff0000", "font": "Liberation Serif", "fontStyle": "italic", "fontSize": 54, "align": "center", "baseline": "alphabetic", "dx": 26, "dy": 19},
          "encoding": {"text": {"field": "sub"}}
        }
      ]
    }
  ],
  "config": {
    "font": "Liberation Serif",
    "view": {"stroke": null},
    "axis": {
      "grid": false,
      "domainColor": "black",
      "domainWidth": 3,
      "tickColor": "black",
      "tickWidth": 3,
      "labelColor": "black",
      "titleColor": "black",
      "labelFont": "Liberation Serif",
      "titleFont": "Liberation Serif",
      "titleFontWeight": "normal",
      "labelFlush": false,
      "labelOverlap": false
    }
  }
}
